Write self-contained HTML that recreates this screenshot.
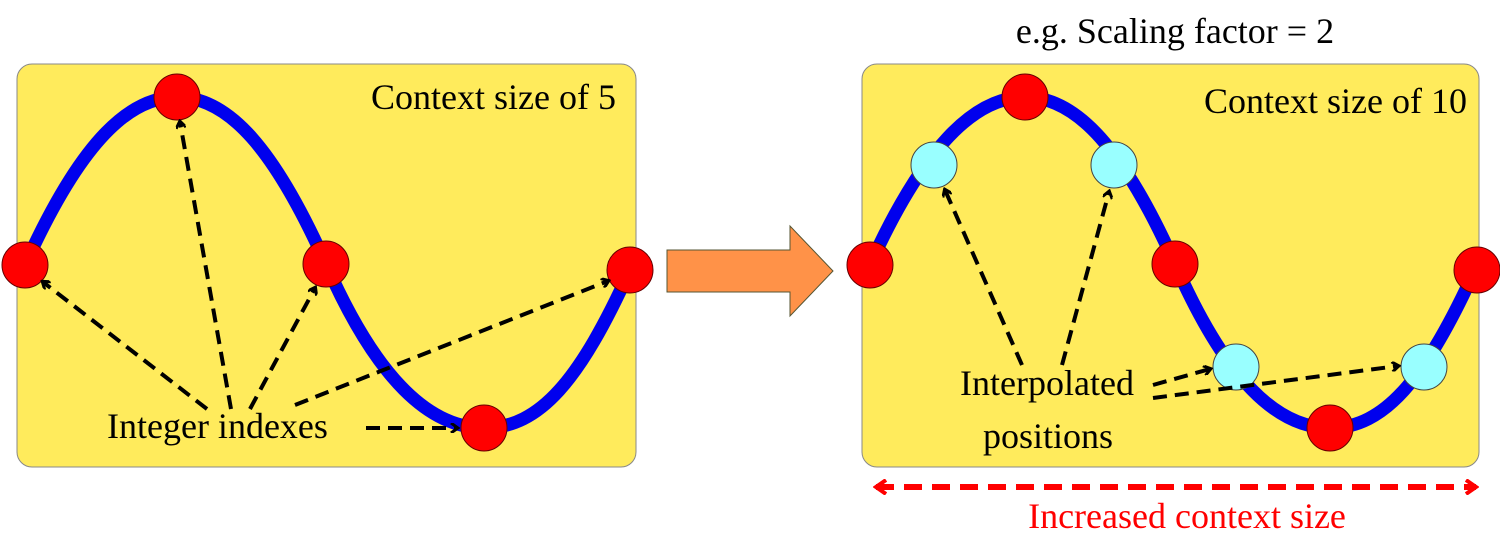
<!DOCTYPE html>
<html><head><style>body{margin:0;background:#fff}</style></head><body>
<svg width="1500" height="550" xmlns="http://www.w3.org/2000/svg" font-family="Liberation Serif, serif">
<defs>
<marker id="ah" markerWidth="10" markerHeight="10" refX="7" refY="5" orient="auto" markerUnits="userSpaceOnUse"><path d="M1,0 L8,5 L1,10" fill="none" stroke="#000" stroke-width="3"/></marker>
<marker id="rh" markerWidth="14" markerHeight="16" refX="11" refY="8" orient="auto" markerUnits="userSpaceOnUse"><path d="M1,1 L11,8 L1,15" fill="none" stroke="#f00" stroke-width="4"/></marker>
<marker id="rt" markerWidth="14" markerHeight="16" refX="3" refY="8" orient="auto" markerUnits="userSpaceOnUse"><path d="M13,1 L3,8 L13,15" fill="none" stroke="#f00" stroke-width="4"/></marker>
</defs>
<rect x="17" y="64" width="619" height="403" rx="15" fill="#ffeb5c" stroke="#888" stroke-width="1"/>
<rect x="862" y="64" width="617" height="403" rx="15" fill="#ffeb5c" stroke="#888" stroke-width="1"/>
<path id="s1" d="M25,265 C77,150 125,97 177,97 C229,97 275,150 326,264 C377,380 430,428 484,428 C540,428 580,380 630,270" fill="none" stroke="#0000ee" stroke-width="13"/>
<path d="M870,265 C922,150 973,97 1025,97 C1077,97 1124,150 1175,264 C1226,380 1277,428 1330,428 C1384,428 1425,380 1475,270" fill="none" stroke="#0000ee" stroke-width="13"/>
<g fill="#f00" stroke="#600" stroke-width="1">
<ellipse cx="25" cy="265" rx="23" ry="23"/><ellipse cx="177" cy="97" rx="23" ry="23"/><ellipse cx="326" cy="264" rx="23" ry="23"/><ellipse cx="484" cy="428" rx="23" ry="23"/><ellipse cx="630" cy="270" rx="23" ry="23"/>
<ellipse cx="870" cy="265" rx="23" ry="23"/><ellipse cx="1025" cy="97" rx="23" ry="23"/><ellipse cx="1175" cy="264" rx="23" ry="23"/><ellipse cx="1330" cy="428" rx="23" ry="23"/><ellipse cx="1477" cy="270" rx="23" ry="23"/>
</g>
<g fill="#99ffff" stroke="#444" stroke-width="1">
<ellipse cx="934" cy="165" rx="23" ry="23"/><ellipse cx="1114" cy="165" rx="23" ry="23"/><ellipse cx="1236" cy="367" rx="23" ry="23"/><ellipse cx="1424" cy="367" rx="23" ry="23"/>
</g>
<g stroke="#000" stroke-width="4" stroke-dasharray="14,8" fill="none" marker-end="url(#ah)">
<line x1="207" y1="409" x2="43" y2="282"/>
<line x1="231" y1="409" x2="180" y2="122"/>
<line x1="250" y1="409" x2="315" y2="288"/>
<line x1="295" y1="405" x2="608" y2="281"/>
<line x1="366" y1="428" x2="457" y2="428"/>
<line x1="1022" y1="365" x2="945" y2="190"/>
<line x1="1062" y1="365" x2="1109" y2="192"/>
<line x1="1153" y1="385" x2="1210" y2="369"/>
<line x1="1153" y1="398" x2="1398" y2="366"/>
</g>
<path d="M667,250 L790,250 L790,226 L833,271 L790,316 L790,292 L667,292 Z" fill="#ff9248" stroke="#553" stroke-width="1"/>
<line x1="876" y1="487" x2="1476" y2="487" stroke="#f00" stroke-width="6" stroke-dasharray="18,10" marker-end="url(#rh)" marker-start="url(#rt)"/>
<g font-size="36" fill="#000">
<text x="616" y="109" text-anchor="end">Context size of 5</text>
<text x="1467" y="113" text-anchor="end">Context size of 10</text>
<text x="107" y="438">Integer indexes</text>
<text x="1047" y="395" text-anchor="middle">Interpolated</text>
<text x="1048" y="448" text-anchor="middle">positions</text>
<text x="1175" y="43" text-anchor="middle">e.g. Scaling factor = 2</text>
<text x="1187" y="528" text-anchor="middle" fill="#f00">Increased context size</text>
</g>
</svg>
</body></html>
